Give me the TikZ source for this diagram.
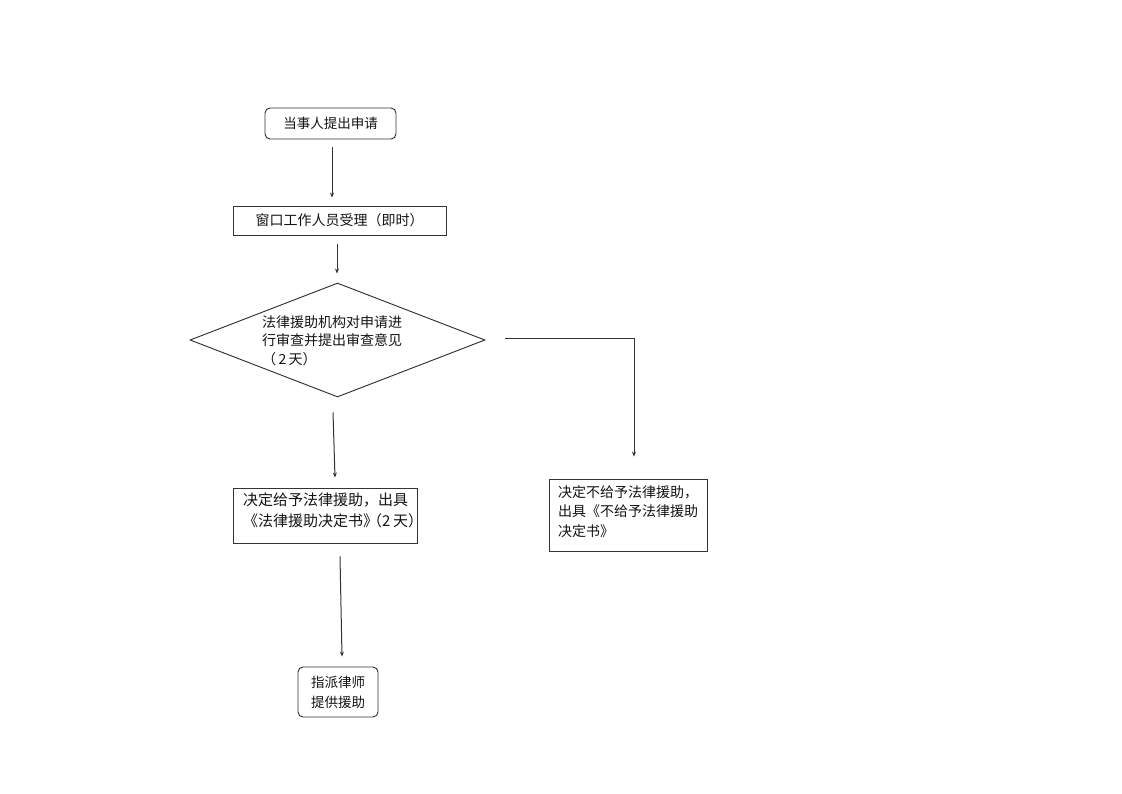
\documentclass[tikz,border=0pt]{standalone}
\usepackage{fontspec}
\setmainfont{Noto Sans CJK SC}
\usetikzlibrary{shapes.geometric,arrows.meta,calc}
\definecolor{linec}{HTML}{333333}
\definecolor{textc}{HTML}{141414}
\tikzset{
  box/.style={draw=linec, line width=0.95pt, inner sep=0pt, text=textc},
  rbox/.style={box, rounded corners=5pt},
  arr/.style={draw=linec, line width=1pt, -{Stealth[length=5pt,width=4pt]}},
  txt/.style={text=textc, inner sep=0pt, align=left},
}
\begin{document}
\begin{tikzpicture}[x=1pt,y=-1pt]
\useasboundingbox[fill=white] (0,0) rectangle (1122,793);

\node[rbox, font=\fontsize{13.5}{18}\selectfont, minimum width=131pt, minimum height=31pt] (b1) at (330.5,123.5) {当事人提出申请};
\node[box, font=\fontsize{14}{18}\selectfont, minimum width=213pt, minimum height=29pt] (b2) at (339.5,220.5) {窗口工作人员受理（即时）};
\node[diamond, draw=linec, line width=0.95pt, inner sep=0pt, minimum width=295pt, minimum height=114pt] (d) at (337.5,340) {};
\node[txt, anchor=west, font=\fontsize{14}{18.5}\selectfont] (dt) at (262,340.5) {法律援助机构对申请进\\行审查并提出审查意见\\（\,2\,天）};

\node[box, minimum width=184pt, minimum height=55pt] (b3) at (325,515.5) {};
\node[txt, anchor=north west, font=\fontsize{15}{21}\selectfont] (t3) at (243,492.5) {决定给予法律援助，出具\\《法律援助决定书》\kern-11pt（2\,天）};

\node[box, minimum width=158pt, minimum height=72pt] (b5) at (628,515) {};
\node[txt, anchor=north west, font=\fontsize{14}{19.5}\selectfont] (t5) at (558,485) {决定不给予法律援助，\\出具《不给予法律援助\\决定书》};

\node[rbox, align=center, font=\fontsize{13.5}{20}\selectfont, minimum width=80pt, minimum height=50pt] (b4) at (338,692) {指派律师\\提供援助};

\draw[arr] ($(b1.south)+(1.5,8)$) -- ($(b2.north)+(-7.5,-8)$);
\draw[arr] ($(b2.south)+(-2.5,9)$) -- ($(d.north)+(-0.5,-9)$);
\draw[arr] ($(d.south)+(-4.5,15)$) -- ($(b3.north)+(10,-10)$);
\draw[arr] ($(b3.south)+(15,13)$) -- ($(b4.north)+(4,-10)$);
\draw[arr] ($(d.east)+(20,-2)$) -| ($(b5.north)+(6,-22)$);
\end{tikzpicture}
\end{document}
